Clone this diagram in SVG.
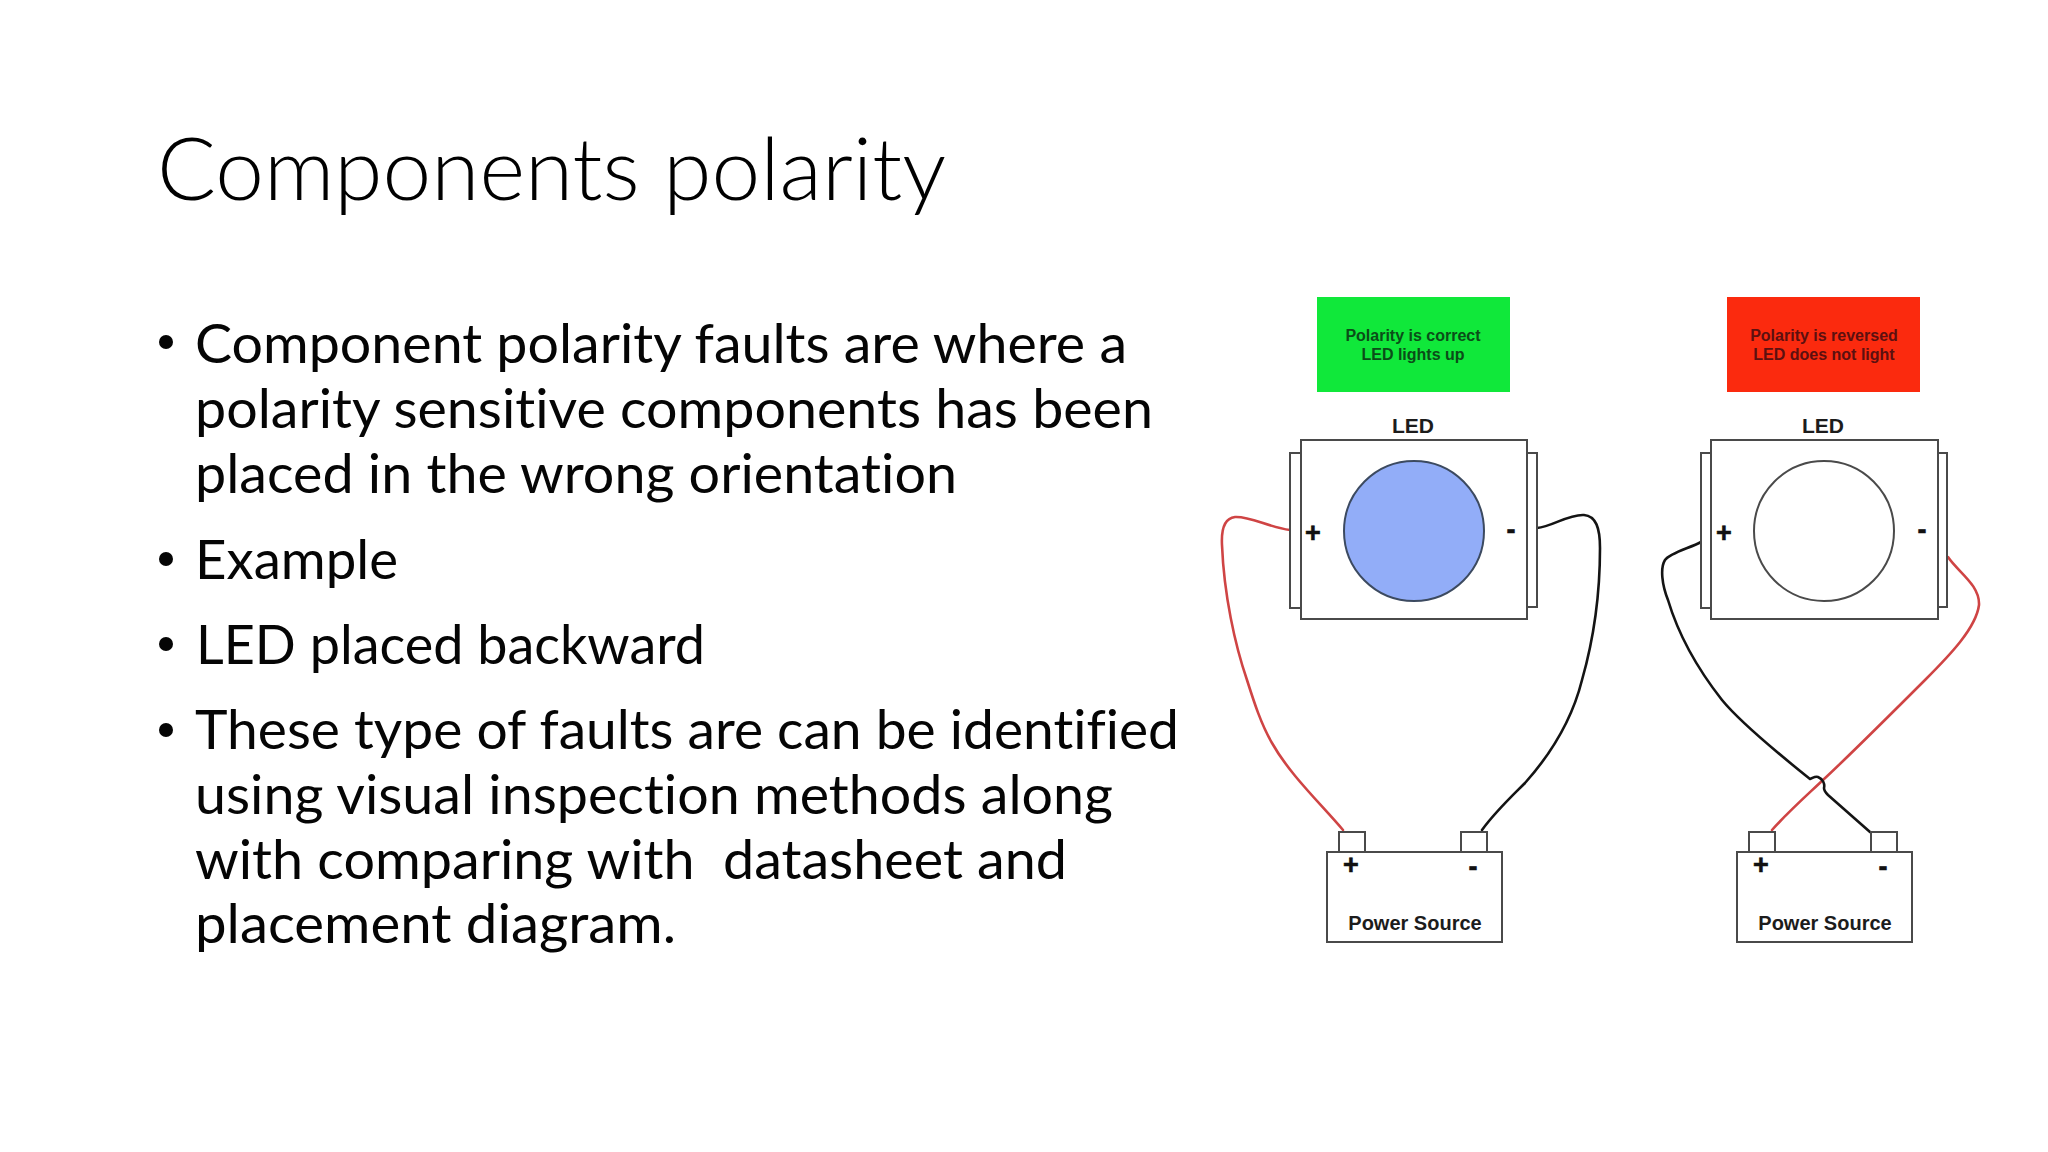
<svg xmlns="http://www.w3.org/2000/svg" width="2048" height="1152" viewBox="0 0 2048 1152">
<style>
.title{font-family:"Lato","Carlito","Liberation Sans",sans-serif;font-weight:300;font-size:87px;fill:#000;font-variant-ligatures:none}
.body{font-family:"Lato","Carlito","Liberation Sans",sans-serif;font-size:54px;fill:#050505;font-variant-ligatures:none}
.box{fill:#fff;stroke:#4a4a4a;stroke-width:2}
.lbl{font-family:"Liberation Sans",Arial,sans-serif;font-weight:700;fill:#1c1c1c;text-anchor:middle}
.big{font-size:21px}
.small{font-size:16px}
.sign{font-size:27px;fill:#111;stroke:#111;stroke-width:.6}
.wire{fill:none;stroke-width:2.6;stroke-linecap:round;stroke-linejoin:round}
.red{stroke:#cf4444}
.blk{stroke:#141414}
</style>
<rect width="2048" height="1152" fill="#fff"/>
<g id="title"><text class="title" x="157" y="200" textLength="789" lengthAdjust="spacingAndGlyphs">Components polarity</text></g>
<g id="bullets">
<circle cx="166" cy="342" r="7" fill="#050505"/>
<circle cx="166" cy="559" r="7" fill="#050505"/>
<circle cx="166" cy="644" r="7" fill="#050505"/>
<circle cx="166" cy="730" r="7" fill="#050505"/>
<text class="body" x="195" y="363" textLength="932" lengthAdjust="spacingAndGlyphs">Component polarity faults are where a</text>
<text class="body" x="195" y="428" textLength="958" lengthAdjust="spacingAndGlyphs">polarity sensitive components has been</text>
<text class="body" x="195" y="493" textLength="762" lengthAdjust="spacingAndGlyphs">placed in the wrong orientation</text>
<text class="body" x="195" y="579" textLength="203" lengthAdjust="spacingAndGlyphs">Example</text>
<text class="body" x="196" y="664" textLength="509" lengthAdjust="spacingAndGlyphs">LED placed backward</text>
<text class="body" x="195" y="749" textLength="984" lengthAdjust="spacingAndGlyphs">These type of faults are can be identified</text>
<text class="body" x="195" y="814" textLength="918" lengthAdjust="spacingAndGlyphs">using visual inspection methods along</text>
<text class="body" x="195" y="879" textLength="872" lengthAdjust="spacingAndGlyphs" xml:space="preserve">with comparing with  datasheet and</text>
<text class="body" x="195" y="943" textLength="481" lengthAdjust="spacingAndGlyphs">placement diagram.</text>
</g>
<g id="connectors">
<path id="wire-left-red" class="wire red" d="M1290 530C1268 527 1250 516 1235 517C1226 518 1221 526 1222 545C1224 595 1235 645 1247 680C1254 702 1261 724 1272 743C1290 775 1322 805 1343 830"/>
<path id="wire-left-black" class="wire blk" d="M1537 528C1552 527 1568 514 1584 515C1596 516 1600 528 1600 548C1600 600 1592 645 1582 680C1572 720 1550 755 1525 783C1510 798 1495 812 1482 830"/>
<path id="wire-right-red" class="wire red" d="M1948 557C1958 572 1980 585 1979 605C1976 628 1950 655 1925 680C1890 715 1850 755 1823 780C1805 797 1788 812 1772 830"/>
<path id="wire-right-black" class="wire blk" d="M1701 542C1690 548 1670 553 1665 560C1660 568 1662 585 1668 600C1680 640 1700 672 1722 700C1740 722 1780 755 1810 779C1813 778 1815 776 1818 777C1823 779 1825 784 1824 788C1824 791 1826 793 1828 795L1870 832"/>
</g>
<g id="status-correct">
<rect x="1317" y="297" width="193" height="95" fill="#10e83a"/>
<text class="lbl small" x="1413" y="341" style="fill:#0b4d18">Polarity is correct</text>
<text class="lbl small" x="1413" y="360" style="fill:#0b4d18">LED lights up</text>
</g>
<g id="status-reversed">
<rect x="1727" y="297" width="193" height="95" fill="#fb2a0e"/>
<text class="lbl small" x="1824" y="341" style="fill:#5c1010">Polarity is reversed</text>
<text class="lbl small" x="1824" y="360" style="fill:#5c1010">LED does not light</text>
</g>
<g id="led-on">
<text class="lbl big" x="1413" y="433">LED</text>
<rect class="box" x="1290" y="453" width="20" height="155"/>
<rect class="box" x="1518" y="453" width="19" height="154"/>
<rect class="box" x="1301" y="440" width="226" height="179"/>
<circle cx="1414" cy="531" r="70" fill="#92adf8" stroke="#3c4a60" stroke-width="2"/>
<text class="lbl sign" x="1313" y="542">+</text>
<text class="lbl sign" x="1511" y="539">-</text>
</g>
<g id="led-off">
<text class="lbl big" x="1823" y="433">LED</text>
<rect class="box" x="1701" y="453" width="20" height="155"/>
<rect class="box" x="1928" y="453" width="19" height="154"/>
<rect class="box" x="1711" y="440" width="227" height="179"/>
<circle cx="1824" cy="531" r="70" fill="#fff" stroke="#4a4a4a" stroke-width="2"/>
<text class="lbl sign" x="1724" y="542">+</text>
<text class="lbl sign" x="1922" y="539">-</text>
</g>
<g id="power-left">
<rect class="box" x="1339" y="832" width="26" height="20"/>
<rect class="box" x="1461" y="832" width="26" height="20"/>
<rect class="box" x="1327" y="852" width="175" height="90"/>
<text class="lbl sign" x="1351" y="874">+</text>
<text class="lbl sign" x="1473" y="876">-</text>
<text class="lbl big" x="1415" y="930" style="font-size:20px">Power Source</text>
</g>
<g id="power-right">
<rect class="box" x="1749" y="832" width="26" height="20"/>
<rect class="box" x="1871" y="832" width="26" height="20"/>
<rect class="box" x="1737" y="852" width="175" height="90"/>
<text class="lbl sign" x="1761" y="874">+</text>
<text class="lbl sign" x="1883" y="876">-</text>
<text class="lbl big" x="1825" y="930" style="font-size:20px">Power Source</text>
</g>
</svg>
